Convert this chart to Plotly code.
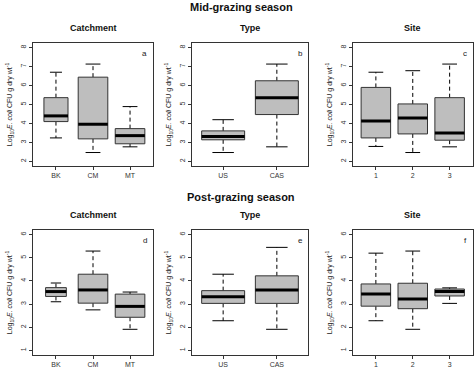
import plotly.graph_objects as go

# ---------------- data (five-number summaries) ----------------
catch_labels = ["BK", "CM", "MT"]
type_labels = ["US", "CAS"]
site_labels = ["1", "2", "3"]

# Mid-grazing season
mid_catch_low = [3.24, 2.47, 2.77]
mid_catch_q1 = [4.10, 3.19, 2.93]
mid_catch_med = [4.40, 3.96, 3.36]
mid_catch_q3 = [5.36, 6.44, 3.73]
mid_catch_high = [6.70, 7.13, 4.89]

mid_type_low = [2.47, 2.77]
mid_type_q1 = [3.14, 4.47]
mid_type_med = [3.31, 5.36]
mid_type_q3 = [3.61, 6.25]
mid_type_high = [4.20, 7.13]

mid_site_low = [2.79, 2.47, 2.77]
mid_site_q1 = [3.24, 3.45, 3.12]
mid_site_med = [4.13, 4.29, 3.50]
mid_site_q3 = [5.90, 5.03, 5.36]
mid_site_high = [6.70, 6.78, 7.13]

# Post-grazing season
post_catch_low = [3.10, 2.75, 1.91]
post_catch_q1 = [3.33, 3.04, 2.43]
post_catch_med = [3.54, 3.61, 2.90]
post_catch_q3 = [3.71, 4.29, 3.43]
post_catch_high = [3.91, 5.29, 3.52]

post_type_low = [2.28, 1.91]
post_type_q1 = [3.03, 3.03]
post_type_med = [3.32, 3.61]
post_type_q3 = [3.58, 4.22]
post_type_high = [4.29, 5.45]

post_site_low = [2.28, 1.91, 3.03]
post_site_q1 = [2.91, 2.80, 3.35]
post_site_med = [3.43, 3.22, 3.54]
post_site_q3 = [3.87, 3.90, 3.65]
post_site_high = [5.20, 5.29, 3.70]

# box widths (relative, varwidth-like)
mid_catch_w = [0.65, 0.8, 0.8]
post_catch_w = [0.56, 0.8, 0.8]
type_w = [0.8, 0.8]
site_w = [0.8, 0.8, 0.8]

# ---------------- figure ----------------
W, H = 474, 370
FONT = "Liberation Sans, Arial, sans-serif"

def dom_x(a, b):
    return [a / W, b / W]

def dom_y(top, bottom):
    return [1 - bottom / H, 1 - top / H]

panels = [
    (catch_labels, mid_catch_low, mid_catch_q1, mid_catch_med, mid_catch_q3, mid_catch_high, mid_catch_w,
     dom_x(33, 153), dom_y(43, 166), [1.76, 8.24], list(range(2, 9)), "a", "Catchment"),
    (type_labels, mid_type_low, mid_type_q1, mid_type_med, mid_type_q3, mid_type_high, type_w,
     dom_x(192, 308), dom_y(43, 166), [1.76, 8.24], list(range(2, 9)), "b", "Type"),
    (site_labels, mid_site_low, mid_site_q1, mid_site_med, mid_site_q3, mid_site_high, site_w,
     dom_x(353, 472.5), dom_y(43, 166), [1.76, 8.24], list(range(2, 9)), "c", "Site"),
    (catch_labels, post_catch_low, post_catch_q1, post_catch_med, post_catch_q3, post_catch_high, post_catch_w,
     dom_x(33, 153), dom_y(230, 355), [0.8, 6.2], list(range(1, 7)), "d", "Catchment"),
    (type_labels, post_type_low, post_type_q1, post_type_med, post_type_q3, post_type_high, type_w,
     dom_x(192, 308), dom_y(230, 355), [0.8, 6.2], list(range(1, 7)), "e", "Type"),
    (site_labels, post_site_low, post_site_q1, post_site_med, post_site_q3, post_site_high, site_w,
     dom_x(353, 472.5), dom_y(230, 355), [0.8, 6.2], list(range(1, 7)), "f", "Site"),
]

fig = go.Figure()
layout = {}
annotations = []
ytitle = "Log<sub>10</sub><i>E. coli</i> CFU g dry wt<sup>-1</sup>"

for i, (labels, lo, q1, med, q3, hi, wid, xd, yd, yr, yt, letter, sub) in enumerate(panels, start=1):
    xa = "x" if i == 1 else f"x{i}"
    ya = "y" if i == 1 else f"y{i}"
    n = len(labels)
    pos = list(range(1, n + 1))
    pad = n * 0.04
    xr = [0.5 - pad, n + 0.5 + pad]

    for j in range(n):
        c = pos[j]
        h = wid[j] / 2
        fig.add_trace(go.Scatter(x=[c, c, None, c, c], y=[q3[j], hi[j], None, q1[j], lo[j]],
                                 mode="lines", line=dict(color="black", width=1, dash="4px,3px"),
                                 xaxis=xa, yaxis=ya, showlegend=False, hoverinfo="skip"))
        fig.add_trace(go.Scatter(x=[c - h / 2, c + h / 2, None, c - h / 2, c + h / 2],
                                 y=[hi[j], hi[j], None, lo[j], lo[j]],
                                 mode="lines", line=dict(color="black", width=1),
                                 xaxis=xa, yaxis=ya, showlegend=False, hoverinfo="skip"))
        fig.add_trace(go.Scatter(x=[c - h, c + h, c + h, c - h, c - h],
                                 y=[q1[j], q1[j], q3[j], q3[j], q1[j]],
                                 mode="lines", fill="toself", fillcolor="#BEBEBE",
                                 line=dict(color="#333333", width=1),
                                 xaxis=xa, yaxis=ya, showlegend=False, hoverinfo="skip"))
        fig.add_trace(go.Scatter(x=[c - h, c + h], y=[med[j], med[j]],
                                 mode="lines", line=dict(color="black", width=3),
                                 xaxis=xa, yaxis=ya, showlegend=False, hoverinfo="skip"))

    axis_common = dict(showline=True, linecolor="#333333", linewidth=1, mirror=True,
                       ticks="outside", ticklen=3, tickcolor="#333333", showgrid=False,
                       zeroline=False, tickfont=dict(size=7, color="#333333", family=FONT))
    layout["xaxis" if i == 1 else f"xaxis{i}"] = dict(
        axis_common, domain=xd, range=xr, tickvals=pos, ticktext=labels,
        anchor=ya, fixedrange=True)
    layout["yaxis" if i == 1 else f"yaxis{i}"] = dict(
        axis_common, domain=yd, range=yr, tickvals=yt, tickangle=-90,
        anchor=xa, fixedrange=True,
        title=dict(text=ytitle, font=dict(size=7, color="#222222", family=FONT), standoff=6))

    annotations.append(dict(text=letter, xref=f"{xa} domain", yref=f"{ya} domain",
                            x=0.97, y=0.97, xanchor="right", yanchor="top", showarrow=False,
                            font=dict(size=8, color="#222222", family=FONT)))
    annotations.append(dict(text=f"<b>{sub}</b>", xref="paper", yref="paper",
                            x=(xd[0] + xd[1]) / 2, y=yd[1] + 15 / H, xanchor="center",
                            yanchor="middle", showarrow=False,
                            font=dict(size=9, color="#111111", family=FONT)))

annotations.append(dict(text="<b>Mid-grazing season</b>", xref="paper", yref="paper",
                        x=241 / W, y=1 - 7 / H, xanchor="center", yanchor="middle",
                        showarrow=False, font=dict(size=11, color="#111111", family=FONT)))
annotations.append(dict(text="<b>Post-grazing season</b>", xref="paper", yref="paper",
                        x=241 / W, y=1 - 197 / H, xanchor="center", yanchor="middle",
                        showarrow=False, font=dict(size=11, color="#111111", family=FONT)))

fig.update_layout(width=W, height=H, margin=dict(l=0, r=0, t=0, b=0),
                  plot_bgcolor="white", paper_bgcolor="white",
                  annotations=annotations, font=dict(family=FONT), **layout)

fig.write_html("out.html", config={"displayModeBar": False},
               post_script="document.body.style.margin='0';document.body.style.overflow='hidden';")
